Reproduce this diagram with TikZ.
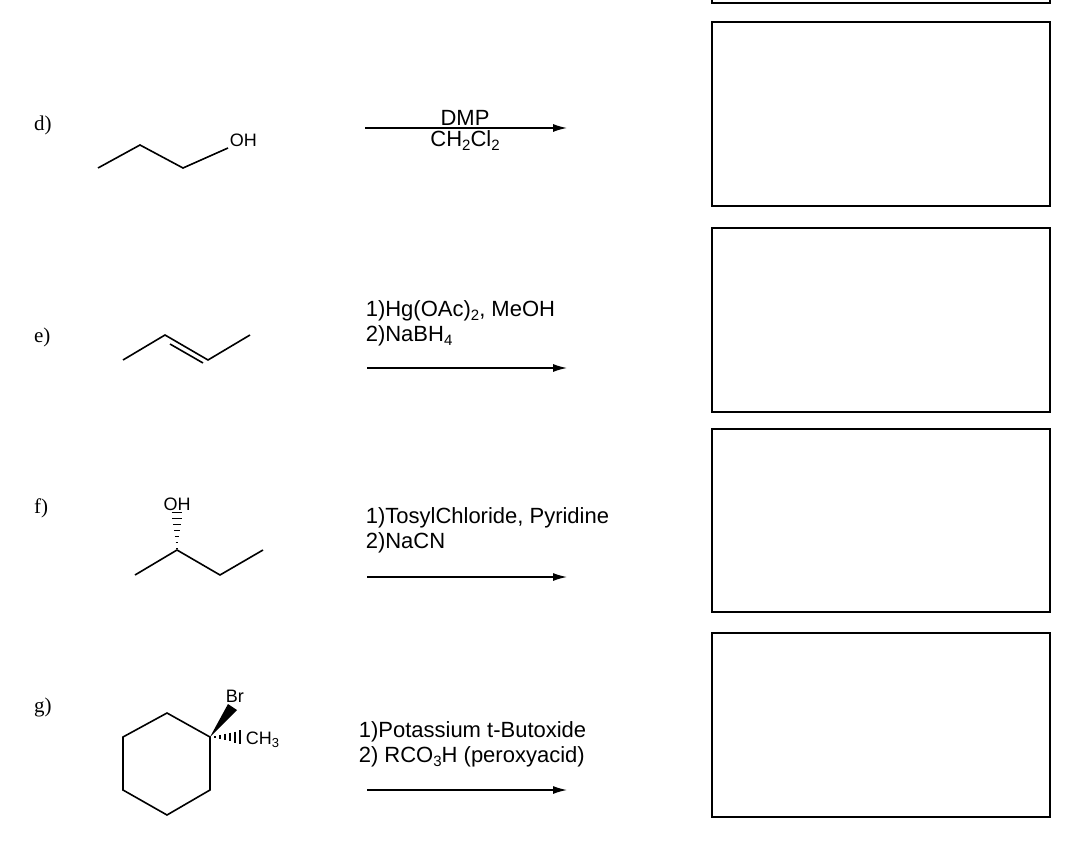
\documentclass[tikz,border=0pt]{standalone}
\usepackage{fontspec}
\setmainfont{Liberation Sans}
\newfontfamily\serifl{Liberation Serif}
\usetikzlibrary{arrows.meta}
\newcommand{\subn}[1]{\raisebox{-0.35ex}{\fontsize{15}{15}\selectfont #1}}
\newcommand{\subm}[1]{\raisebox{-0.35ex}{\fontsize{13}{13}\selectfont #1}}
\begin{document}
\begin{tikzpicture}[x=1pt,y=-1pt,line width=1.6pt,
  lbl/.style={font=\serifl\fontsize{21}{24}\selectfont,anchor=west},
  rg/.style={font=\fontsize{22}{25}\selectfont,anchor=west,inner sep=0,align=left},
  atm/.style={font=\fontsize{18}{20}\selectfont,inner sep=1pt},
  box/.style={draw,line width=1.3pt},
  rx/.style={-{Latex[length=14pt,width=8pt]},line width=1.3pt}]
\useasboundingbox (0,0) rectangle (1086,866);
\draw[box] (712,-10) rectangle (1050,3);
\draw[box] (712,22) rectangle (1050,206);
\draw[box] (712,228) rectangle (1050,412);
\draw[box] (712,429) rectangle (1050,612);
\draw[box] (712,633) rectangle (1050,817);
\node[lbl] (ld) at (30,125) {d)};
\node[lbl] (le) at (30,337) {e)};
\node[lbl] (lf) at (30,508) {f)};
\node[lbl] (lg) at (30,707) {g)};
% d
\node[atm,anchor=west] (oh1) at (228,140) {OH};
\draw (98,168) -- (140,145) -- (183,168) -- (oh1.west |- 0,148);
\coordinate (da) at (365,128); \coordinate (db) at (567,128);
\draw[rx] (da) -- (db);
\node[rg,anchor=south] (dmp) at (465,126) {DMP};
\node[rg,anchor=north] (dcl) at (465,130) {CH\subn{2}Cl\subn{2}};
% e
\draw (123,360) -- (165,335) -- (208,360) -- (250,335);
\draw (170,344) -- (203,363);
\node[rg] (et) at (365,323) {1)Hg(OAc)\subn{2}, MeOH\\2)NaBH\subn{4}};
\coordinate (ea) at (367,368); \coordinate (eb) at (567,368);
\draw[rx] (ea) -- (eb);
% f
\node[atm,anchor=south] (oh2) at (177,512) {OH};
\draw (135,575) -- (177,550) -- (220,575) -- (263,550);
\foreach \i in {0,...,6}{\draw[line width=1pt] ({177-0.6-\i*0.8},{548-\i*6}) -- ({177+0.6+\i*0.8},{548-\i*6});}
\node[rg] (ft) at (365,530) {1)TosylChloride, Pyridine\\2)NaCN};
\coordinate (fa) at (367,577); \coordinate (fb) at (567,577);
\draw[rx] (fa) -- (fb);
% g
\draw (210,737) -- (167,713) -- (123,737) -- (123,790) -- (167,815) -- (210,790) -- cycle;
\fill (210,737) -- (228,704) -- (237,710) -- cycle;
\node[atm,anchor=south west] (br) at (224,704) {Br};
\foreach \i in {1,...,6}{\draw[line width=1.2pt] ({210+\i*5},{737-\i*1.1}) -- ({210+\i*5},{737+\i*1.1});}
\node[atm,anchor=west] (ch3) at (244,740) {CH\subm{3}};
\node[rg] (gt) at (358,744) {1)Potassium t-Butoxide\\2) RCO\subn{3}H (peroxyacid)};
\coordinate (ga) at (367,790); \coordinate (gb) at (567,790);
\draw[rx] (ga) -- (gb);
\end{tikzpicture}
\end{document}
